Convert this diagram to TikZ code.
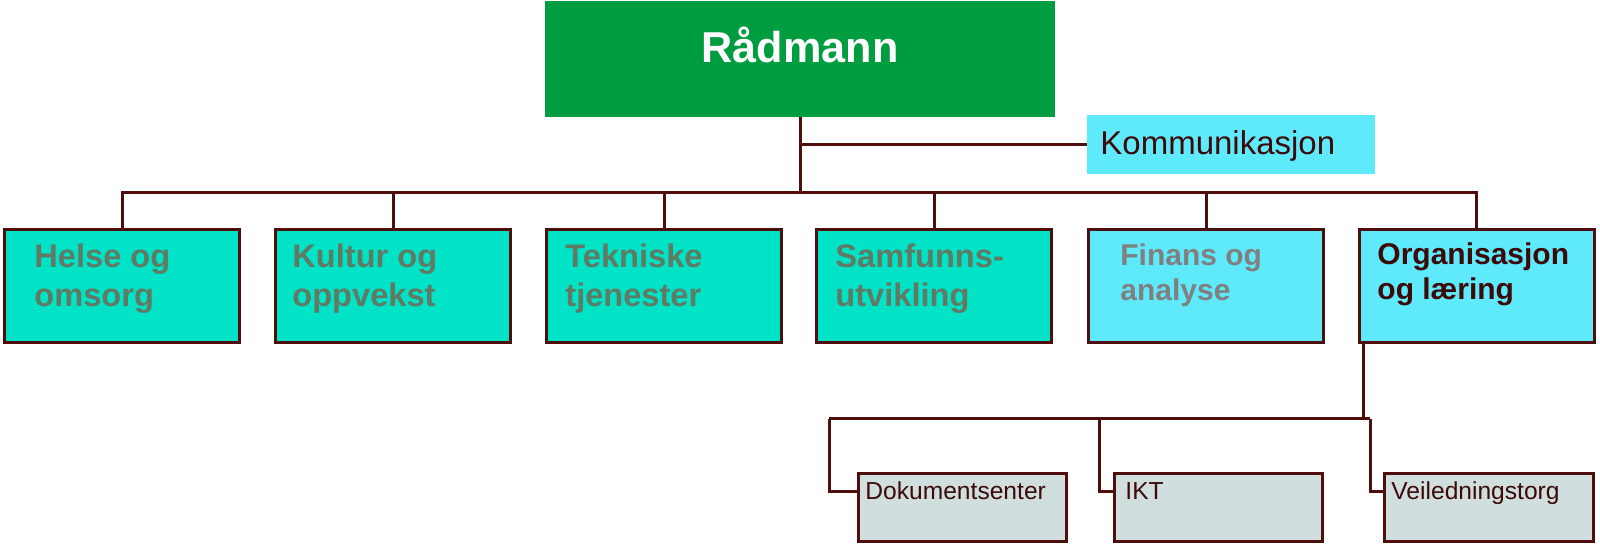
\documentclass[tikz,border=0pt]{standalone}
\usepackage{fontspec}
\setmainfont{Liberation Sans}
\usetikzlibrary{calc}
\definecolor{lin}{RGB}{78,14,14}
\definecolor{txtdark}{RGB}{60,10,10}
\definecolor{txtgreen}{RGB}{96,122,100}
\definecolor{txtgray}{RGB}{128,128,128}
\definecolor{radgreen}{RGB}{0,157,64}
\definecolor{tealfill}{RGB}{0,227,199}
\definecolor{bluefill}{RGB}{94,234,250}
\definecolor{subfill}{RGB}{208,222,222}
\tikzset{
  box/.style={rectangle, draw=lin, line width=1.5pt, inner sep=0pt, outer sep=0pt},
  lvl/.style={box, minimum width=117.5pt, minimum height=56.5pt},
  subbox/.style={box, fill=subfill, minimum height=34pt},
  conn/.style={draw=lin, line width=1.5pt},
  lvltxt/.style={anchor=base west, inner sep=0pt, font=\fontsize{16.3}{19.5}\selectfont\bfseries},
  bluetxt/.style={anchor=base west, inner sep=0pt, font=\fontsize{15}{17.5}\selectfont\bfseries},
  subtxt/.style={anchor=base west, inner sep=0pt, text=txtdark, font=\fontsize{12.3}{14}\selectfont},
}
\begin{document}
\begin{tikzpicture}[x=0.5pt,y=-0.5pt]
\useasboundingbox (0,0) rectangle (1600,549);
% top
\node[rectangle, fill=radgreen, minimum width=255pt, minimum height=58pt, inner sep=0pt, outer sep=0pt] (rad) at (800,59) {};
\node[anchor=base, inner sep=0pt, text=white, font=\fontsize{21.6}{26}\selectfont\bfseries] (radT) at (800,63) {Rådmann};
\node[rectangle, fill=bluefill, minimum width=144pt, minimum height=29.5pt, inner sep=0pt, outer sep=0pt] (kom) at (1231,144.5) {};
\node[anchor=base west, inner sep=0pt, text=txtdark, font=\fontsize{16.5}{20}\selectfont] (komT) at (1100,155) {Kommunikasjon};
% level boxes
\node[lvl, fill=tealfill] (helse) at (122,286) {};
\node[lvl, fill=tealfill] (kultur) at (393,286) {};
\node[lvl, fill=tealfill] (tekn) at (664,286) {};
\node[lvl, fill=tealfill] (samf) at (934,286) {};
\node[lvl, fill=bluefill] (finans) at (1206,286) {};
\node[lvl, fill=bluefill] (org) at (1476.5,286) {};
\node[lvltxt, text=txtgreen] (helseT) at (34,268) {\parbox[t]{110pt}{Helse og\\omsorg}};
\node[lvltxt, text=txtgreen] (kulturT) at (292,268) {\parbox[t]{110pt}{Kultur og\\oppvekst}};
\node[lvltxt, text=txtgreen] (teknT) at (565,268) {\parbox[t]{110pt}{Tekniske\\tjenester}};
\node[lvltxt, text=txtgreen] (samfT) at (835,268) {\parbox[t]{110pt}{Samfunns-\\utvikling}};
\node[bluetxt, text=txtgray] (finansT) at (1120,266) {\parbox[t]{110pt}{Finans og\\analyse}};
\node[bluetxt, text=txtdark] (orgT) at (1377,265) {\parbox[t]{110pt}{Organisasjon\\og læring}};
% sub boxes
\node[subbox, minimum width=104pt] (dok) at (962.5,507.5) {};
\node[subbox, minimum width=104pt] (ikt) at (1218.5,507.5) {};
\node[subbox, minimum width=104.5pt] (veil) at (1489,507.5) {};
\node[subtxt] (dokT) at (865,500) {Dokumentsenter};
\node[subtxt] (iktT) at (1125,500) {IKT};
\node[subtxt] (veilT) at (1391,500) {Veiledningstorg};
% connectors
\coordinate (bus) at (800,193);
\draw[conn] (rad.south) -- (bus);
\draw[conn] (rad.south |- kom.west) -- (kom.west);
\foreach \n in {helse,kultur,tekn,samf,finans,org}
  \draw[conn] (bus) -| (\n.north);
\coordinate (obus) at (1363,419);
\coordinate (dokK) at (829,419);
\coordinate (iktK) at (1099,419);
\coordinate (veilK) at (1370,419);
\draw[conn] (obus |- org.south) -- (obus);
\draw[conn] (dokK) -- (veilK);
\draw[conn] (dokK) |- ([yshift=8pt]dok.west);
\draw[conn] (iktK) |- ([yshift=8pt]ikt.west);
\draw[conn] (veilK) |- ([yshift=8pt]veil.west);
\end{tikzpicture}
\end{document}
